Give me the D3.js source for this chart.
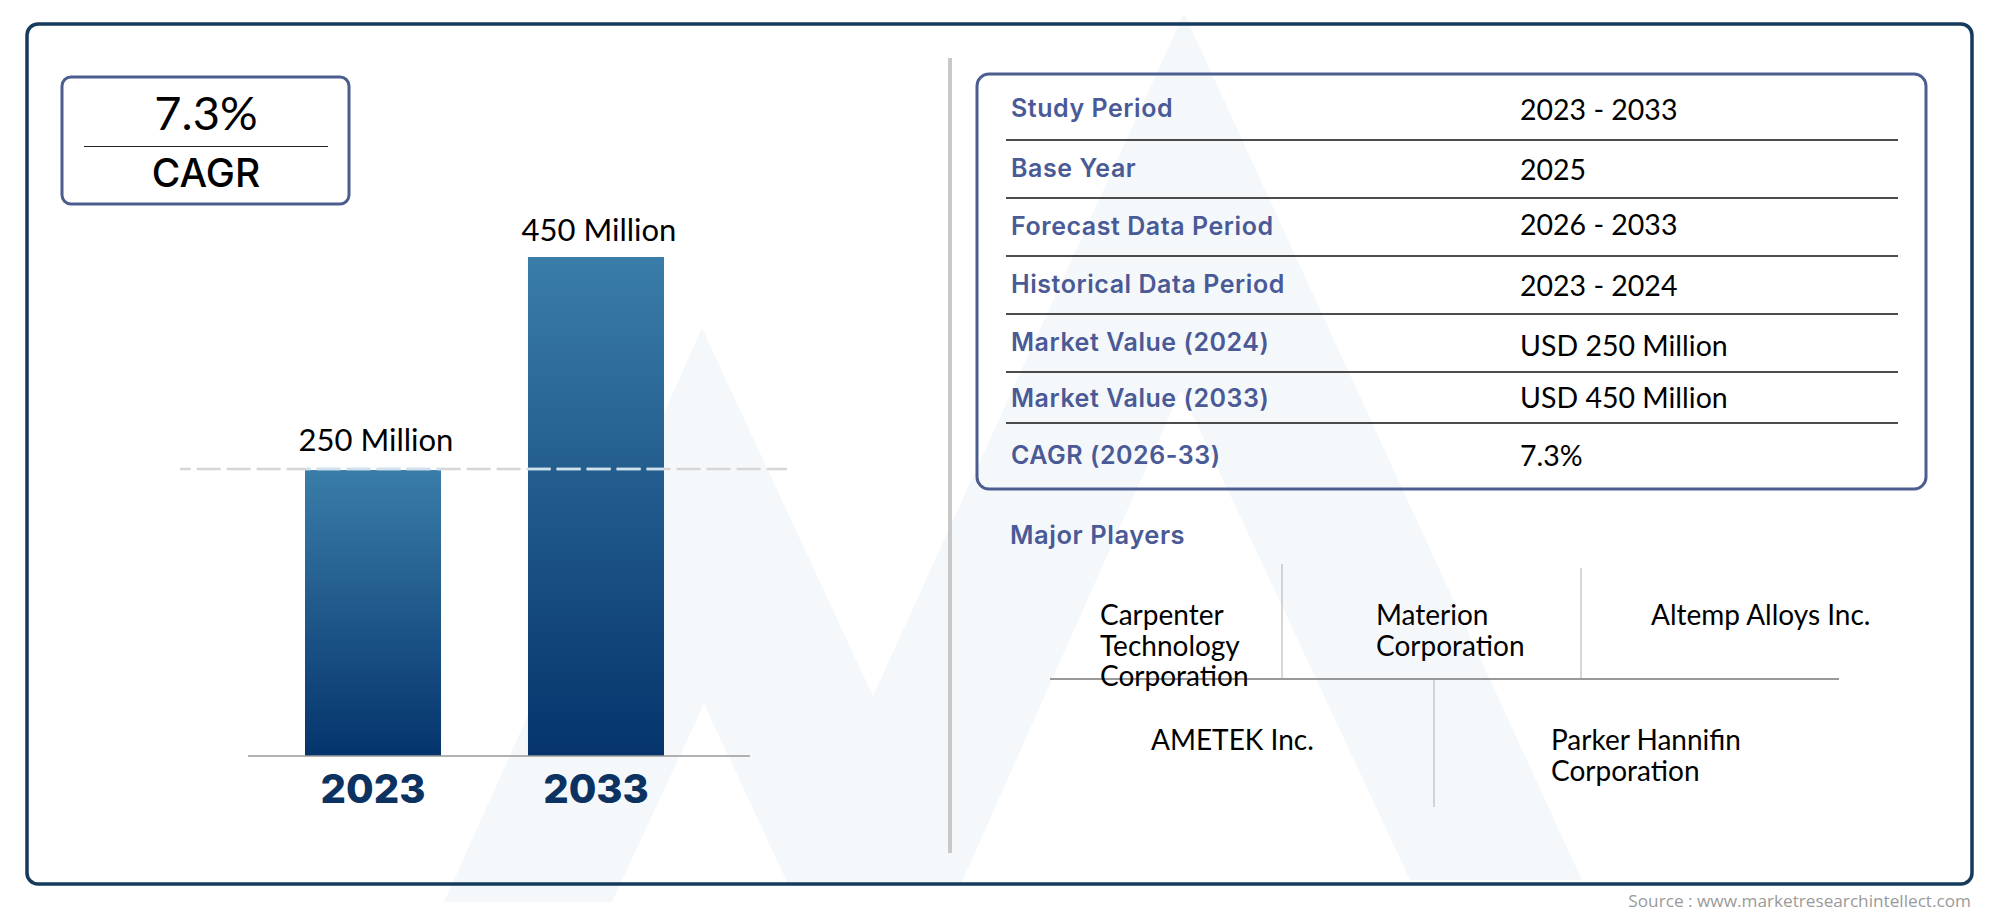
<!DOCTYPE html>
<html>
<head>
<meta charset="utf-8">
<title>Market size chart</title>
<script src="https://cdn.jsdelivr.net/npm/d3@7"></script>
<style>
  html, body { margin: 0; background: #fff; }
  svg { display: block; }
  .plain { font-family: Lato, sans-serif; fill: #000; }
  .head { font-family: Inter, sans-serif; font-weight: 600; fill: #4a5a96; letter-spacing: 0.55px; }
</style>
</head>
<body>
<script>
// chart values
const years = ["2023", "2033"];
const marketValues = [250, 450];
const valueLabels = ["250 Million", "450 Million"];
const cagrValue = "7.3%";
const cagrLabel = "CAGR";

// table
const tableLabels = ["Study Period", "Base Year", "Forecast Data Period", "Historical Data Period",
  "Market Value (2024)", "Market Value (2033)", "CAGR (2026-33)"];
const tableValues = ["2023 - 2033", "2025", "2026 - 2033", "2023 - 2024",
  "USD 250 Million", "USD 450 Million", "7.3%"];

const playersTitle = "Major Players";
const players = [
  ["Carpenter", "Technology", "Corporation"],
  ["Materion", "Corporation"],
  ["Altemp Alloys Inc."],
  ["AMETEK Inc."],
  ["Parker Hannifin", "Corporation"]
];
const sourceText = "Source : www.marketresearchintellect.com";

// layout of the page
const w = 2000;
const h = 917;
const labelBase = [117, 177, 235, 293, 351, 407, 464]; // rows are not evenly spaced in the picture
const valueBase = [120, 180, 235, 296, 356, 408, 466];
const ruleY = [140, 198, 256, 314, 372, 423];
const playerX = [1100, 1376, 1651, 1151, 1551];
const playerY = [625, 625, 625, 750, 750];
const playerStep = 30.5;
const valueGap = [19, 16];
const watermark = [[444, 902], [702, 328], [873, 696], [1184, 13], [1582, 880], [1410, 880], [1181, 390],
  [961, 884], [788, 884], [704, 704], [612, 902]];

const svg = d3.select("body").append("svg").attr("width", w).attr("height", h);

svg.append("polygon")
  .attr("points", watermark.join(" "))
  .attr("fill", "#f5f8fb");

// rounded boxes
const box = (x, y, bw, bh, r, color, sw) => svg.append("rect")
  .attr("x", x).attr("y", y).attr("width", bw).attr("height", bh).attr("rx", r)
  .attr("fill", "none").attr("stroke", color).attr("stroke-width", sw);

const line = (x1, y1, x2, y2, color, sw) => svg.append("line")
  .attr("x1", x1).attr("y1", y1).attr("x2", x2).attr("y2", y2)
  .attr("stroke", color).attr("stroke-width", sw);

box(27, 24, 1945, 860, 11, "#143a5c", 3.5);
box(62, 77, 287, 127, 9, "#4c5d8f", 3);
box(977, 74, 949, 415, 12, "#4c5d8f", 3);
line(950, 58, 950, 853, "#c8c8c8", 4);

// CAGR box
svg.append("text").attr("class", "plain").attr("x", 206).attr("y", 130)
  .attr("text-anchor", "middle").attr("font-size", 47).text(cagrValue);
line(84, 146.5, 328, 146.5, "#222", 1.2);
svg.append("text").attr("x", 206).attr("y", 187).attr("text-anchor", "middle")
  .attr("font-family", "Inter, sans-serif").attr("font-weight", 500).attr("font-size", 39)
  .attr("fill", "#000").text(cagrLabel);

// bars
const x = d3.scaleBand().domain(years).range([305, 664]).paddingInner(0.39);
// the bars of the picture do not start from zero, so the floor of the scale is read from it
const y = d3.scaleLinear().domain([-18.5, 450]).range([756, 257]);

const defs = svg.append("defs");
const grad = defs.append("linearGradient").attr("id", "barFill").attr("x1", 0).attr("y1", 0).attr("x2", 0).attr("y2", 1);
grad.append("stop").attr("offset", "0%").attr("stop-color", "#3a7da9");
grad.append("stop").attr("offset", "100%").attr("stop-color", "#05346c");

svg.selectAll(".bar")
  .data(marketValues)
  .enter()
  .append("rect")
  .attr("class", "bar")
  .attr("x", (d, i) => x(years[i]))
  .attr("y", d => y(d))
  .attr("width", x.bandwidth())
  .attr("height", d => y.range()[0] - y(d))
  .attr("fill", "url(#barFill)");

svg.selectAll(".value")
  .data(valueLabels)
  .enter()
  .append("text")
  .attr("class", "plain value")
  .attr("x", (d, i) => x(years[i]) + x.bandwidth() / 2 + 3)
  .attr("y", (d, i) => y(marketValues[i]) - valueGap[i])
  .attr("text-anchor", "middle")
  .attr("font-size", 31)
  .text(d => d);

// dashed line at the level of the first bar, lighter where it crosses the bars
const clip = defs.append("clipPath").attr("id", "barClip");
clip.selectAll("rect").data(marketValues).enter().append("rect")
  .attr("x", (d, i) => x(years[i])).attr("y", 0)
  .attr("width", x.bandwidth()).attr("height", h);
const dashY = y(marketValues[0]) - 1;
line(180, dashY, 787, dashY, "#d6d6d6", 2.6).attr("stroke-dasharray", "24 6").attr("stroke-dashoffset", 13.4);
line(180, dashY, 787, dashY, "#cfe2f0", 2.6).attr("stroke-dasharray", "24 6").attr("stroke-dashoffset", 13.4)
  .attr("clip-path", "url(#barClip)");

// axis
line(248, 756, 750, 756, "#999", 1.5);
const axis = svg.append("g")
  .attr("transform", "translate(0,756)")
  .call(d3.axisBottom(x).tickSize(0).tickPadding(19));
axis.select(".domain").remove();
axis.selectAll("text")
  .attr("font-family", "Inter, sans-serif")
  .attr("font-weight", 800)
  .attr("font-size", 40)
  .attr("fill", "#0b3260");

// table
svg.selectAll(".rowLabel").data(tableLabels).enter().append("text")
  .attr("class", "head rowLabel")
  .attr("x", 1011).attr("y", (d, i) => labelBase[i])
  .attr("font-size", 25).text(d => d);
svg.selectAll(".rowValue").data(tableValues).enter().append("text")
  .attr("class", "plain rowValue")
  .attr("x", 1520).attr("y", (d, i) => valueBase[i])
  .attr("font-size", 28.5).text(d => d);
ruleY.forEach(r => line(1006, r, 1898, r, "#111", 1.3));

// players
svg.append("text").attr("class", "head").attr("x", 1010).attr("y", 544)
  .attr("font-size", 25.5).attr("font-weight", 700).text(playersTitle);

line(1050, 679, 1839, 679, "#777", 1.3);
line(1282, 564, 1282, 678, "#999", 0.8);
line(1581, 568, 1581, 678, "#999", 0.8);
line(1434, 679, 1434, 807, "#999", 0.8);

players.forEach((rows, i) => {
  rows.forEach((t, j) => {
    svg.append("text").attr("class", "plain")
      .attr("x", playerX[i]).attr("y", playerY[i] + j * playerStep)
      .attr("font-size", 28).text(t);
  });
});

// source
svg.append("text").attr("x", 1971).attr("y", 907).attr("text-anchor", "end")
  .attr("font-family", "'Open Sans', sans-serif").attr("font-size", 17.2).attr("fill", "#9a9a9a")
  .text(sourceText);
</script>
</body>
</html>
